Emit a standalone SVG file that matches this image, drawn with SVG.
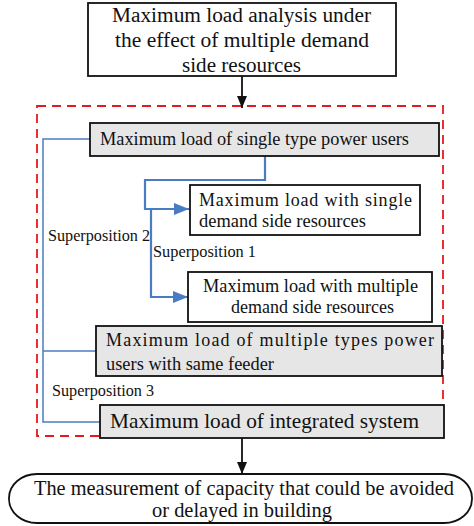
<svg xmlns="http://www.w3.org/2000/svg" width="474" height="526" viewBox="0 0 474 526">
<style>
text{font-family:"Liberation Serif","Times New Roman",serif;fill:#111}
.box{fill:#fff;stroke:#111;stroke-width:1.8}
.gbox{fill:#e6e6e6;stroke:#111;stroke-width:1.8}
.blue{fill:none;stroke:#4a7cc4;stroke-width:1.5}
.blue2{fill:none;stroke:#4a7cc4;stroke-width:2.2}
.blk{fill:none;stroke:#111;stroke-width:1.8}
.lbl{font-size:16px}
</style>
<defs>
<marker id="ab" markerWidth="15" markerHeight="12" refX="15" refY="6" orient="auto" markerUnits="userSpaceOnUse"><path d="M0,0 L15,6 L0,12 Z" fill="#4a7cc4"/></marker>
<marker id="ak" markerWidth="12" markerHeight="10" refX="12" refY="5" orient="auto" markerUnits="userSpaceOnUse"><path d="M0,0 L12,5 L0,10 Z" fill="#111"/></marker>
</defs>
<rect x="37" y="106" width="406" height="330" fill="none" stroke="#e8191c" stroke-width="1.8" stroke-dasharray="9,6"/>
<g id="connectors">
<path class="blk" d="M242,76 V108" marker-end="url(#ak)"/>
<path class="blk" d="M242,438 V474" marker-end="url(#ak)"/>
<path class="blue" d="M90,139 H43 V422 H100"/>
<path class="blue" d="M43,351 H96"/>
<path class="blue2" d="M265,156 V180 H145 V209 H189" marker-end="url(#ab)"/>
<path class="blue2" d="M151,209 V297 H188" marker-end="url(#ab)"/>
<text class="lbl" x="48" y="241" textLength="102" lengthAdjust="spacingAndGlyphs">Superposition 2</text>
<text class="lbl" x="153" y="257" textLength="103" lengthAdjust="spacingAndGlyphs">Superposition 1</text>
<text class="lbl" x="52" y="396" textLength="102" lengthAdjust="spacingAndGlyphs">Superposition 3</text>
</g>
<g id="n-top">
<rect class="box" x="88" y="3" width="308" height="73"/>
<text x="112" y="22" font-size="20" textLength="259" lengthAdjust="spacingAndGlyphs">Maximum load analysis under</text>
<text x="115" y="47" font-size="20" textLength="254" lengthAdjust="spacingAndGlyphs">the effect of multiple demand</text>
<text x="182" y="72" font-size="20" textLength="119" lengthAdjust="spacingAndGlyphs">side resources</text>
</g>
<g id="n-single-type">
<rect class="gbox" x="90" y="123" width="349" height="33"/>
<text x="100" y="145" font-size="18" textLength="309" lengthAdjust="spacingAndGlyphs">Maximum load of single type power users</text>
</g>
<g id="n-single-dsr">
<rect class="box" x="190" y="185" width="230" height="50"/>
<text x="199" y="206" font-size="18" textLength="213" lengthAdjust="spacing">Maximum load with single</text>
<text x="199" y="227" font-size="18" textLength="167" lengthAdjust="spacingAndGlyphs">demand side resources</text>
</g>
<g id="n-multi-dsr">
<rect class="box" x="188" y="272" width="244" height="50"/>
<text x="203" y="292" font-size="18" textLength="215" lengthAdjust="spacingAndGlyphs">Maximum load with multiple</text>
<text x="231" y="313" font-size="18" textLength="163" lengthAdjust="spacingAndGlyphs">demand side resources</text>
</g>
<g id="n-multi-types">
<rect class="gbox" x="96" y="326" width="346" height="50"/>
<text x="106" y="346" font-size="18" textLength="328" lengthAdjust="spacing">Maximum load of multiple types power</text>
<text x="106" y="370" font-size="18" textLength="168" lengthAdjust="spacingAndGlyphs">users with same feeder</text>
</g>
<g id="n-integrated">
<rect class="gbox" x="100" y="405" width="344" height="33"/>
<text x="110" y="428" font-size="21" textLength="309" lengthAdjust="spacingAndGlyphs">Maximum load of integrated system</text>
</g>
<g id="n-bottom">
<rect class="box" x="9" y="474" width="463" height="49" rx="28" ry="24"/>
<text x="34" y="495" font-size="20" textLength="420" lengthAdjust="spacingAndGlyphs">The measurement of capacity that could be avoided</text>
<text x="152" y="517" font-size="20" textLength="180" lengthAdjust="spacingAndGlyphs">or delayed in building</text>
</g>
</svg>
